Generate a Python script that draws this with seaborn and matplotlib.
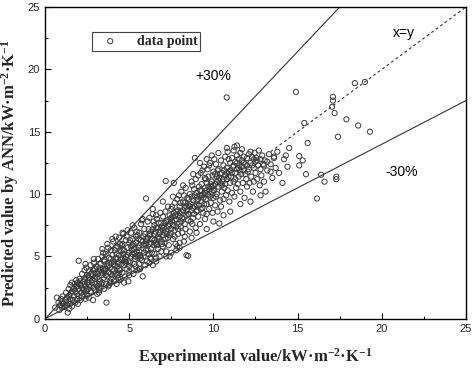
import pandas as pd
import seaborn as sns

import matplotlib
matplotlib.use('Agg')  # Use non-GUI backend (e.g., Agg)
import matplotlib.pyplot as plt


# Experimental vs ANN-predicted values
exp_x = [
    0.6, 0.7, 0.8, 0.85, 0.9, 0.95, 1.0, 1.0,
    1.05, 1.1, 1.15, 1.2, 1.25, 1.3, 1.3, 1.35, 1.4, 1.4, 1.45, 1.45, 1.5, 1.5, 1.5,
    1.55, 1.6, 1.6, 1.65, 1.7, 1.7, 1.75, 1.8, 1.8, 1.85, 1.9, 1.9, 1.95, 1.95, 2.0, 2.0, 2.0, 1.85,
    2.05, 2.1, 2.1, 2.15, 2.2, 2.2, 2.25, 2.3, 2.3, 2.35, 2.4, 2.4, 2.4, 2.45, 2.45, 2.5, 2.5, 2.5, 2.35, 2.2,
    2.55, 2.6, 2.6, 2.65, 2.7, 2.7, 2.75, 2.8, 2.8, 2.85, 2.85, 2.9, 2.9, 2.95, 3.0, 3.0, 3.0, 2.6, 2.7, 2.95, 2.75, 2.55,
    3.05, 3.1, 3.1, 3.15, 3.2, 3.2, 3.25, 3.3, 3.3, 3.35, 3.4, 3.4, 3.45, 3.5, 3.5, 3.5, 3.15, 3.25, 3.35, 3.45, 3.1, 3.4,
    3.55, 3.6, 3.6, 3.65, 3.65, 3.7, 3.7, 3.75, 3.8, 3.8, 3.85, 3.85, 3.9, 3.9, 3.95, 4.0, 4.0, 4.0, 3.55, 3.75, 3.95, 3.6, 3.7, 3.9,
    4.05, 4.1, 4.1, 4.15, 4.2, 4.2, 4.25, 4.3, 4.3, 4.35, 4.4, 4.4, 4.45, 4.5, 4.5, 4.5, 4.15, 4.25, 4.35, 4.45, 4.05, 4.3, 4.4, 4.2,
    4.55, 4.6, 4.6, 4.65, 4.7, 4.7, 4.75, 4.8, 4.8, 4.85, 4.9, 4.9, 4.95, 5.0, 5.0, 5.0, 4.55, 4.65, 4.75, 4.85, 4.95, 4.7, 4.8, 4.6,
    5.05, 5.1, 5.1, 5.15, 5.2, 5.2, 5.25, 5.3, 5.3, 5.35, 5.4, 5.4, 5.45, 5.5, 5.5, 5.5, 5.15, 5.25, 5.35, 5.45, 5.05, 5.3,
    5.55, 5.6, 5.6, 5.65, 5.7, 5.7, 5.75, 5.8, 5.8, 5.85, 5.9, 5.9, 5.95, 6.0, 6.0, 6.0, 5.55, 5.65, 5.75, 5.85, 5.95, 5.6,
    6.05, 6.1, 6.1, 6.15, 6.2, 6.2, 6.25, 6.3, 6.3, 6.35, 6.4, 6.4, 6.45, 6.5, 6.5, 6.5, 6.15, 6.25, 6.35, 6.45, 6.05, 6.3,
    6.55, 6.6, 6.6, 6.65, 6.7, 6.7, 6.75, 6.8, 6.8, 6.85, 6.9, 6.9, 6.95, 7.0, 7.0, 7.0, 6.55, 6.65, 6.75, 6.85, 6.95, 6.6,
    7.05, 7.1, 7.15, 7.17, 7.2, 7.2, 7.25, 7.3, 7.3, 7.35, 7.4, 7.4, 7.45, 7.5, 7.5, 7.5, 7.1, 7.25, 7.35, 7.45, 7.15, 7.4,
    7.55, 7.6, 7.65, 7.65, 7.7, 7.7, 7.75, 7.8, 7.8, 7.85, 7.9, 7.9, 7.95, 8.0, 8.0, 8.0, 7.6, 7.75, 7.85, 7.95, 7.55, 7.7,
    8.05, 8.1, 8.1, 8.15, 8.2, 8.2, 8.25, 8.3, 8.3, 8.35, 8.4, 8.4, 8.45, 8.5, 8.5, 8.5, 8.15, 8.25, 8.35, 8.45, 8.05, 8.3,
    8.55, 8.6, 8.6, 8.65, 8.7, 8.7, 8.75, 8.8, 8.8, 8.85, 8.9, 8.9, 8.95, 9.0, 9.0, 9.0, 8.55, 8.65, 8.75, 8.85, 8.95, 8.7,
    9.05, 9.1, 9.1, 9.15, 9.2, 9.2, 9.25, 9.3, 9.3, 9.35, 9.4, 9.4, 9.45, 9.5, 9.5, 9.5, 9.15, 9.25, 9.35, 9.45, 9.05, 9.3,
    9.55, 9.6, 9.6, 9.65, 9.7, 9.7, 9.75, 9.8, 9.8, 9.85, 9.9, 9.9, 9.95, 10.0, 10.0, 10.0, 9.55, 9.65, 9.75, 9.85, 9.95, 9.6,
    10.05, 10.1, 10.1, 10.15, 10.2, 10.2, 10.25, 10.3, 10.3, 10.35, 10.35, 10.4, 10.4, 10.45, 10.5, 10.5, 10.15, 10.25, 10.45, 10.05,
    10.55, 10.6, 10.6, 10.65, 10.7, 10.7, 10.75, 10.79, 10.8, 10.8, 10.85, 10.9, 10.9, 10.95, 11.0, 11.0, 10.65, 10.85,
    11.05, 11.1, 11.1, 11.15, 11.2, 11.2, 11.25, 11.3, 11.3, 11.35, 11.4, 11.4, 11.45, 11.5, 11.5, 11.25,
    11.55, 11.6, 11.6, 11.65, 11.7, 11.75, 11.8, 11.8, 11.85, 11.9, 11.95, 12.0, 12.0, 11.7,
    12.05, 12.1, 12.15, 12.2, 12.25, 12.3, 12.35, 12.4, 12.4, 12.45, 12.5, 12.5,
    12.55, 12.6, 12.65, 12.7, 12.75, 12.8, 12.85, 12.9, 12.95, 13.0,
    13.05, 13.1, 13.2, 13.3, 13.4, 13.5, 13.6, 13.7, 13.8, 13.9,
    14.1, 14.2, 14.3, 14.5, 14.4,
    14.9, 18.4, 19.0, 17.1, 17.1, 17.05, 17.2, 17.9, 18.6, 19.3, 17.4, 15.6, 15.4,
    15.1, 15.3, 15.1, 15.5, 16.4, 16.6, 17.3, 17.3, 16.15,
]
ann_y = [
    0.9, 1.7, 1.3, 0.7, 1.1, 1.6, 0.9, 1.4,
    1.8, 1.2, 0.95, 1.5, 2.1, 1.1, 1.7, 0.5, 1.4, 2.4, 1.9, 0.8, 1.2, 2.7, 1.6,
    2.1, 1.0, 2.9, 1.5, 2.4, 1.8, 2.8, 1.3, 2.2, 2.6, 1.6, 2.0, 2.9, 1.2, 2.4, 1.8, 4.65, 3.1,
    3.2, 1.5, 2.7, 2.1, 3.6, 1.8, 2.4, 3.0, 2.0, 3.9, 2.6, 1.6, 3.3, 2.2, 4.1, 2.9, 1.9, 3.5, 2.8, 2.5,
    2.4, 3.8, 1.7, 3.1, 2.6, 4.3, 2.1, 3.4, 2.9, 3.9, 1.5, 2.5, 4.5, 3.2, 2.3, 3.7, 2.8, 3.3, 2.2, 4.0, 3.6, 2.9,
    4.2, 2.6, 3.3, 4.8, 2.1, 3.8, 3.0, 4.4, 2.5, 3.5, 5.0, 2.9, 4.0, 3.3, 4.6, 2.4, 3.6, 4.1, 2.8, 5.3, 2.0, 3.7,
    3.9, 5.2, 2.8, 1.3, 4.4, 3.4, 6.0, 2.6, 4.9, 3.7, 4.1, 3.0, 5.5, 2.9, 4.5, 3.5, 5.1, 4.0, 4.7, 5.7, 3.2, 3.5, 4.2, 4.8,
    6.2, 3.0, 4.6, 5.5, 3.6, 4.9, 2.8, 5.8, 4.2, 3.3, 5.1, 6.5, 3.9, 4.7, 5.4, 3.2, 4.3, 5.2, 4.5, 6.0, 3.8, 3.5, 4.0, 6.6,
    5.9, 3.7, 4.9, 6.8, 4.3, 5.5, 3.4, 6.3, 5.0, 4.0, 5.7, 7.1, 4.6, 5.3, 3.8, 6.1, 4.4, 5.2, 4.8, 6.6, 3.0, 2.9, 4.5, 6.0,
    4.5, 5.8, 6.9, 4.0, 5.2, 6.4, 3.6, 5.6, 7.3, 4.8, 6.1, 4.2, 5.4, 6.7, 4.9, 3.9, 5.5, 6.0, 5.0, 7.0, 6.3, 4.4,
    5.7, 4.4, 6.9, 5.1, 6.3, 7.6, 4.7, 5.9, 3.4, 6.6, 5.3, 7.2, 4.3, 6.0, 9.65, 5.5, 6.4, 4.0, 7.9, 5.0, 6.8, 5.4,
    4.6, 6.5, 7.8, 5.2, 6.0, 8.1, 4.9, 7.0, 5.6, 6.4, 8.4, 4.3, 5.9, 6.8, 7.5, 5.2, 7.2, 6.7, 5.3, 7.8, 6.2, 4.8,
    6.1, 7.3, 4.9, 8.0, 5.6, 6.6, 7.7, 5.0, 6.9, 8.5, 6.2, 5.4, 7.4, 6.7, 8.2, 5.8, 7.0, 5.9, 6.4, 7.1, 6.0, 8.3,
    7.3, 6.1, 8.6, 11.05, 5.4, 7.0, 7.9, 6.5, 9.0, 5.9, 7.6, 8.3, 6.9, 7.2, 5.3, 8.8, 7.7, 6.8, 7.4, 8.0, 6.4, 5.0,
    7.8, 6.4, 10.9, 8.5, 7.1, 9.3, 6.0, 8.0, 7.4, 9.6, 6.8, 8.7, 7.6, 8.2, 6.1, 9.0, 7.5, 8.3, 5.8, 9.9, 9.0, 6.6,
    7.4, 8.6, 10.2, 6.9, 8.0, 9.4, 6.2, 8.9, 7.6, 10.5, 5.1, 8.3, 9.7, 5.05, 7.9, 9.1, 8.1, 9.9, 7.2, 8.7, 9.3, 6.6,
    8.4, 10.0, 7.0, 9.2, 8.7, 11.0, 7.6, 9.5, 8.1, 10.4, 12.9, 9.0, 7.3, 8.6, 10.1, 9.5, 9.6, 7.8, 10.7, 8.4, 11.2, 6.5,
    9.8, 8.2, 11.5, 9.1, 10.3, 7.6, 8.8, 10.8, 9.4, 11.9, 8.5, 10.0, 9.2, 11.3, 8.0, 10.5, 10.6, 11.7, 8.9, 12.2, 8.7, 9.9,
    9.6, 10.9, 8.4, 12.0, 9.9, 11.4, 8.8, 10.4, 12.5, 9.3, 11.0, 10.2, 8.5, 10.7, 11.8, 9.7, 11.2, 10.0, 12.3, 10.8, 11.5, 9.2,
    10.3, 11.6, 9.1, 12.4, 10.0, 11.0, 8.6, 10.6, 12.0, 7.65, 11.3, 9.5, 10.9, 12.7, 10.2, 11.7, 9.8, 11.9, 9.0, 12.8,
    11.0, 12.3, 9.6, 10.5, 11.5, 13.0, 9.9, 17.75, 11.2, 12.1, 10.3, 12.8, 11.8, 9.4, 10.9, 12.5, 11.9, 13.4,
    11.4, 12.9, 10.1, 12.2, 13.5, 11.0, 9.8, 12.6, 11.7, 10.5, 13.1, 12.0, 10.8, 11.4, 12.8, 13.8,
    12.3, 10.2, 13.3, 11.6, 12.7, 10.9, 13.0, 11.9, 9.7, 12.4, 11.2, 12.9, 10.6, 13.6,
    11.8, 13.2, 10.9, 12.5, 11.4, 13.0, 10.2, 12.1, 11.0, 13.3, 11.7, 12.6,
    12.9, 11.2, 12.3, 13.5, 10.7, 12.0, 11.5, 13.1, 12.4, 11.0,
    12.7, 10.2, 11.9, 13.2, 12.4, 11.3, 12.9, 12.1, 13.4, 11.7,
    10.9, 12.8, 13.1, 13.7, 12.2,
    18.2, 18.9, 19.0, 17.8, 17.5, 17.0, 16.5, 16.0, 15.5, 15.0, 14.6, 14.1, 15.7,
    13.05, 12.7, 12.3, 11.6, 11.55, 11.0, 11.4, 11.2, 9.65,
]

# second pass over the dense band, same reading
exp_x_dense = [
    1.2, 1.6, 1.9, 2.1, 2.3, 2.6, 2.8, 3.0, 3.2, 3.3, 3.5, 3.6, 3.8, 3.9, 4.1, 4.2, 4.3, 4.4,
    4.6, 4.7, 4.9, 5.0, 5.1, 5.2, 5.3, 5.4, 5.5, 5.6, 5.7, 5.8, 5.9, 6.0, 6.1, 6.2, 6.3, 6.4,
    6.5, 6.6, 6.7, 6.8, 6.9, 7.0, 7.1, 7.2, 7.3, 7.4, 7.5, 7.6, 7.7, 7.8, 7.9, 8.0, 8.1, 8.2,
    8.3, 8.4, 8.5, 8.6, 8.7, 8.8, 8.9, 9.0, 9.1, 9.2, 9.3, 9.4, 9.5, 9.6, 9.7, 9.8, 9.9, 10.0,
    10.1, 10.2, 10.3, 10.4, 10.5, 10.6, 10.7, 10.8, 10.9, 11.0, 11.1, 11.2, 11.3, 11.4, 11.5,
    11.6, 11.7, 11.8, 11.9, 12.0, 12.1, 12.2, 12.3, 12.4, 12.6, 12.8, 13.0, 13.2, 13.4, 13.6,
    7.0, 7.6, 8.2, 8.8, 9.2, 9.6, 9.9, 10.3, 10.8, 11.4, 6.4, 5.8, 5.2, 4.6, 4.0, 3.4, 2.9, 2.4,
    6.6, 7.2, 7.8, 8.0, 9.0, 9.6, 10.0, 10.6, 11.0, 11.6, 12.2, 12.8, 6.2, 5.6, 5.0, 4.4, 3.8, 3.2,
]
ann_y_dense = [
    1.0, 2.2, 2.6, 3.0, 2.3, 2.7, 3.1, 3.4, 2.8, 3.9, 3.8, 4.0, 4.3, 3.6, 4.4, 5.7, 4.8, 3.7,
    5.5, 4.6, 5.1, 4.2, 5.0, 5.9, 5.3, 6.6, 5.1, 5.9, 4.9, 6.2, 6.0, 6.4, 5.5, 6.8, 6.1, 7.2,
    6.3, 6.0, 7.3, 6.5, 7.7, 7.1, 6.9, 7.8, 7.5, 6.7, 8.1, 8.2, 7.9, 8.6, 7.2, 8.5, 7.8, 8.7,
    9.3, 9.0, 8.4, 9.0, 9.8, 8.9, 9.9, 9.1, 9.6, 9.9, 10.3, 9.7, 10.1, 10.3, 10.6, 9.8, 10.6, 10.3,
    10.8, 11.4, 11.1, 11.6, 10.7, 11.2, 10.8, 11.7, 11.4, 11.9, 11.7, 12.3, 11.2, 12.5, 12.1,
    11.9, 12.2, 12.5, 11.6, 12.3, 12.0, 13.4, 12.3, 12.8, 12.7, 12.8, 12.3, 12.6, 11.8, 13.0,
    9.4, 9.8, 10.7, 11.6, 12.5, 12.8, 13.1, 13.3, 13.7, 13.9, 8.8, 8.0, 7.5, 6.9, 6.4, 5.6, 4.8, 4.4,
    4.6, 5.0, 5.5, 5.7, 6.9, 7.2, 7.8, 8.3, 8.6, 9.2, 9.4, 9.9, 4.5, 4.0, 3.5, 3.1, 2.7, 2.3,
]

# reference lines: +30 %, x=y, -30 %
ref_slopes = [1 / 0.7, 1.0, 0.7]
ref_x_start = [0.0, 13.4, 0.0]
ref_labels = ["+30%", "x=y", "-30%"]
label_pos_x = [10.0, 21.3, 21.2]
label_pos_y = [19.45, 22.9, 11.75]

df = pd.DataFrame({"exp": exp_x + exp_x_dense, "ann": ann_y + ann_y_dense})

sns.set_style("ticks")
plt.rcParams['font.family'] = ['Liberation Sans', 'DejaVu Sans']
plt.rcParams['mathtext.fontset'] = 'custom'
plt.rcParams['mathtext.rm'] = 'Liberation Serif:bold'
plt.rcParams['mathtext.bf'] = 'Liberation Serif:bold'
plt.rcParams['mathtext.it'] = 'Liberation Serif:bold'

fig = plt.figure(figsize=(4.74, 3.72), dpi=100)
ax = fig.add_axes([0.095, 0.143, 0.888, 0.838])

lim = 25
for slope, x0 in zip(ref_slopes, ref_x_start):
    x1 = min(lim, lim / slope)
    style = '--' if slope == 1.0 else '-'
    ax.plot([x0, x1], [x0 * slope, x1 * slope], style, color='#333333',
            lw=0.8, dashes=(2.5, 2.5) if style == '--' else (None, None), zorder=1)

sns.scatterplot(data=df, x="exp", y="ann", ax=ax, marker='o', s=14,
                facecolor='none', edgecolor='#3a3a3a', linewidth=0.7,
                label='data point', zorder=2)

for txt, tx, ty in zip(ref_labels, label_pos_x, label_pos_y):
    ax.text(tx, ty, txt, ha='center', va='center', fontsize=10, color='black')

ax.set_xlim(0, lim)
ax.set_ylim(0, lim)
ax.set_xticks(range(0, 26, 5))
ax.set_yticks(range(0, 26, 5))
ax.set_xticks([2.5, 7.5, 12.5, 17.5, 22.5], minor=True)
ax.set_yticks([2.5, 7.5, 12.5, 17.5, 22.5], minor=True)
ax.tick_params(which='both', direction='in', labelsize=8, color='black')
ax.tick_params(which='major', length=4, width=0.8)
ax.tick_params(which='minor', length=2.5, width=0.8)
for sp in ax.spines.values():
    sp.set_visible(True)
    sp.set_linewidth(1.0)
    sp.set_color('black')

ax.set_xlabel(r"Experimental value/kW·m$^{-2}$·K$^{-1}$", family='Liberation Serif',
              fontweight='bold', fontsize=12, labelpad=9)
ax.set_ylabel(r"Predicted value by ANN/kW·m$^{-2}$·K$^{-1}$", family='Liberation Serif',
              fontweight='bold', fontsize=12)
ax.yaxis.set_label_coords(-0.058, 0.467)

leg = ax.legend(loc='upper left', bbox_to_anchor=(0.112, 0.92), borderaxespad=0,
                fancybox=False, edgecolor='#444444', framealpha=1,
                prop={'family': 'Liberation Serif', 'weight': 'bold', 'size': 10},
                handletextpad=0.8, borderpad=0.2, handlelength=2.2)
leg.get_frame().set_linewidth(0.8)

fig.savefig("out.png", dpi=100)
